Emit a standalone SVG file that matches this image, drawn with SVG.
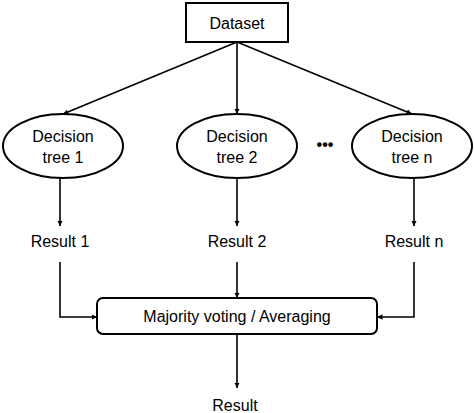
<svg xmlns="http://www.w3.org/2000/svg" width="474" height="413" viewBox="0 0 474 413">
<style>
.n{fill:#fff;stroke:#000;stroke-width:2}
.c{fill:none;stroke:#000;stroke-width:1.6}
text{font-family:"Liberation Sans",Arial,sans-serif;font-size:16px;fill:#000;text-anchor:middle}
</style>
<defs>
<marker id="ah" viewBox="0 0 10 10" refX="10" refY="5" markerWidth="5.5" markerHeight="5.5" markerUnits="userSpaceOnUse" orient="auto">
<path d="M0,0 L10,5 L0,10 z" fill="#000"/>
</marker>
</defs>
<rect width="474" height="413" fill="#fff"/>
<g id="connectors">
<line class="c" x1="237" y1="42" x2="63" y2="114" marker-end="url(#ah)"/>
<line class="c" x1="237" y1="42" x2="237" y2="114" marker-end="url(#ah)"/>
<line class="c" x1="237" y1="42" x2="412" y2="114" marker-end="url(#ah)"/>
<line class="c" x1="60" y1="178" x2="60" y2="226" marker-end="url(#ah)"/>
<line class="c" x1="237" y1="178" x2="237" y2="226" marker-end="url(#ah)"/>
<line class="c" x1="414" y1="178" x2="414" y2="226" marker-end="url(#ah)"/>
<polyline class="c" points="60,262 60,317 97,317" marker-end="url(#ah)"/>
<line class="c" x1="237" y1="262" x2="237" y2="298" marker-end="url(#ah)"/>
<polyline class="c" points="414,262 414,317 377,317" marker-end="url(#ah)"/>
<line class="c" x1="237" y1="334" x2="237" y2="388" marker-end="url(#ah)"/>
</g>
<g id="dataset">
<rect class="n" x="186" y="3" width="102" height="39"/>
<text x="237" y="29">Dataset</text>
</g>
<g id="tree1">
<ellipse class="n" cx="63" cy="146" rx="60" ry="32"/>
<text x="63" y="142">Decision</text>
<text x="63" y="163">tree 1</text>
</g>
<g id="tree2">
<ellipse class="n" cx="237" cy="146" rx="60" ry="32"/>
<text x="237" y="142">Decision</text>
<text x="237" y="163">tree 2</text>
</g>
<g id="dots">
<text x="325" y="150" style="font-weight:bold">•••</text>
</g>
<g id="treen">
<ellipse class="n" cx="412" cy="146" rx="60" ry="32"/>
<text x="412" y="142">Decision</text>
<text x="412" y="163">tree n</text>
</g>
<g id="result1"><text x="60" y="247">Result 1</text></g>
<g id="result2"><text x="237" y="247">Result 2</text></g>
<g id="resultn"><text x="414" y="247">Result n</text></g>
<g id="voting">
<rect class="n" x="97" y="298" width="280" height="36" rx="6" ry="6"/>
<text x="237" y="322">Majority voting / Averaging</text>
</g>
<g id="result"><text x="235" y="411">Result</text></g>
</svg>
